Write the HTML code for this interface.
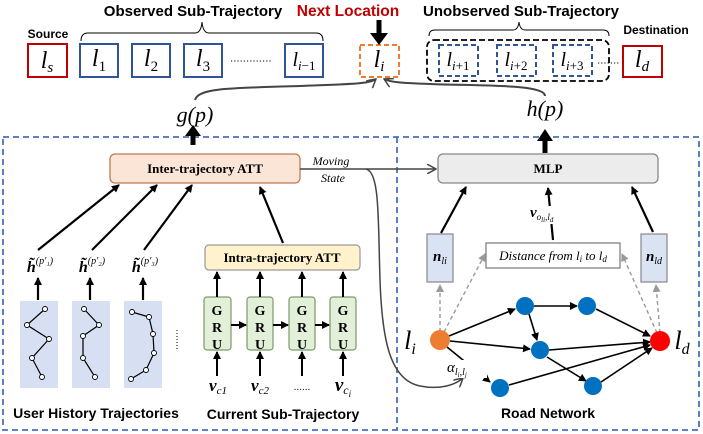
<!DOCTYPE html>
<html><head><meta charset="utf-8"><style>
html,body{margin:0;padding:0;background:#fff;}
svg{display:block;}
.s{font-family:"Liberation Sans",sans-serif;font-weight:bold;}
.m{font-family:"Liberation Serif",serif;font-style:italic;}
.b{font-family:"Liberation Serif",serif;font-weight:bold;}
</style></head><body>
<svg width="703" height="434" viewBox="0 0 703 434" xmlns="http://www.w3.org/2000/svg">
<defs>
<marker id="a" markerWidth="8" markerHeight="8" refX="7" refY="4" orient="auto" markerUnits="userSpaceOnUse"><path d="M0,0 L8,4 L0,8 Z" fill="#000"/></marker>
<marker id="ag" markerWidth="8" markerHeight="8" refX="7" refY="4" orient="auto" markerUnits="userSpaceOnUse"><path d="M0,0 L8,4 L0,8 Z" fill="#999"/></marker>
<marker id="ao" markerWidth="10" markerHeight="10" refX="9" refY="5" orient="auto" markerUnits="userSpaceOnUse"><path d="M0,0 L9,5 L0,10" fill="none" stroke="#444" stroke-width="1.5"/></marker>
</defs>
<text x="193" y="16" class="s" font-size="15" text-anchor="middle">Observed Sub-Trajectory</text>
<text x="348" y="16" class="s" font-size="15.5" text-anchor="middle" fill="#c00000">Next Location</text>
<text x="521" y="16" class="s" font-size="15" text-anchor="middle">Unobserved Sub-Trajectory</text>
<text x="48" y="38" class="s" font-size="12" text-anchor="middle">Source</text>
<text x="656" y="34" class="s" font-size="12" text-anchor="middle">Destination</text>
<path d="M81,41 Q81,33 88,33 L195,33 Q201,33 202,22 Q203,33 209,33 L316,33 Q323,33 323,41" fill="none" stroke="#000" stroke-width="1"/>
<path d="M429,36 Q429,30 435,30 L513,30 Q518,30 519,22 Q520,30 525,30 L603,30 Q609,30 609,36" fill="none" stroke="#000" stroke-width="1"/>
<rect x="28" y="44" width="39" height="33" fill="#fff" stroke="#c00000" stroke-width="2"/>
<text x="47" y="68" class="m" font-size="24" text-anchor="middle">l<tspan font-size="15" dy="4">s</tspan></text>
<g fill="#fff" stroke="#2f5597" stroke-width="2">
<rect x="80" y="44" width="38" height="33"/><rect x="132" y="44" width="38" height="33"/><rect x="184" y="44" width="38" height="33"/><rect x="285" y="44" width="38" height="33"/></g>
<text x="99" y="66" class="m" font-size="24" text-anchor="middle">l<tspan font-size="15" font-style="normal" dy="5">1</tspan></text>
<text x="151" y="66" class="m" font-size="24" text-anchor="middle">l<tspan font-size="15" font-style="normal" dy="5">2</tspan></text>
<text x="203" y="66" class="m" font-size="24" text-anchor="middle">l<tspan font-size="15" font-style="normal" dy="5">3</tspan></text>
<text x="304" y="66" class="m" font-size="20" text-anchor="middle">l<tspan font-size="13" dy="4">i</tspan><tspan font-size="13" font-style="normal">−1</tspan></text>
<line x1="231" y1="61" x2="272" y2="61" stroke="#000" stroke-dasharray="1.2 2"/>
<rect x="360" y="45" width="39" height="32" fill="none" stroke="#ed7d31" stroke-width="2" stroke-dasharray="5 3"/>
<text x="379" y="67" class="m" font-size="24" text-anchor="middle">l<tspan font-size="15" dy="4">i</tspan></text>
<path d="M379,20 L379,36" stroke="#000" stroke-width="5"/><path d="M370,33 L388,33 L379,45 Z" fill="#000"/>
<rect x="427" y="40" width="182" height="41" rx="7" fill="none" stroke="#000" stroke-width="1.8" stroke-dasharray="6 3"/>
<g fill="none" stroke="#2f5597" stroke-width="2" stroke-dasharray="5 3">
<rect x="439" y="45" width="39" height="31"/><rect x="497" y="45" width="39" height="31"/><rect x="553" y="45" width="39" height="31"/></g>
<text x="458" y="66" class="m" font-size="20" text-anchor="middle">l<tspan font-size="13" dy="4">i</tspan><tspan font-size="13" font-style="normal">+1</tspan></text>
<text x="516" y="66" class="m" font-size="20" text-anchor="middle">l<tspan font-size="13" dy="4">i</tspan><tspan font-size="13" font-style="normal">+2</tspan></text>
<text x="572" y="66" class="m" font-size="20" text-anchor="middle">l<tspan font-size="13" dy="4">i</tspan><tspan font-size="13" font-style="normal">+3</tspan></text>
<line x1="598" y1="63" x2="620" y2="63" stroke="#000" stroke-dasharray="1.2 2"/>
<rect x="623" y="46" width="39" height="31" fill="#fff" stroke="#c00000" stroke-width="2"/>
<text x="642" y="67" class="m" font-size="24" text-anchor="middle">l<tspan font-size="15" dy="4">d</tspan></text>
<path d="M195,100 C198,88 230,88 300,86 C350,84 370,84 376,79" fill="none" stroke="#444" stroke-width="2" marker-end="url(#ao)"/>
<path d="M545,96 C545,84 480,86 430,84 C400,83 390,82 384,79" fill="none" stroke="#444" stroke-width="2" marker-end="url(#ao)"/>
<text x="195" y="122" class="m" font-size="22" text-anchor="middle">g(p)</text>
<text x="545" y="116" class="m" font-size="22" text-anchor="middle">h(p)</text>
<g fill="none" stroke="#4a72b8" stroke-width="1.8" stroke-dasharray="6 4">
<rect x="3" y="137" width="696" height="293"/><line x1="397" y1="137" x2="397" y2="430"/></g>
<path d="M193,145 L193,132" stroke="#000" stroke-width="5"/><path d="M185,136 L201,136 L193,125 Z" fill="#000"/>
<path d="M545,153 L545,138" stroke="#000" stroke-width="5"/><path d="M537,141 L553,141 L545,129 Z" fill="#000"/>
<rect x="110" y="154" width="190" height="29" rx="5" fill="#fbe5d6" stroke="#c07a50" stroke-width="1.3"/>
<text x="205" y="173" class="b" font-size="13" text-anchor="middle">Inter-trajectory ATT</text>
<text x="331" y="165" class="m" font-size="12" text-anchor="middle">Moving</text>
<text x="333" y="182" class="m" font-size="12" text-anchor="middle">State</text>
<line x1="300" y1="169" x2="436" y2="169" stroke="#444" stroke-width="1.5" marker-end="url(#ao)"/>
<path d="M366,169 C380,172 378,220 380,280 C382,340 390,380 420,386 C440,390 455,385 463,378" fill="none" stroke="#444" stroke-width="1.5" marker-end="url(#ao)"/>
<rect x="438" y="154" width="220" height="29" rx="5" fill="#ececec" stroke="#888" stroke-width="1.3"/>
<text x="548" y="173" class="b" font-size="13" text-anchor="middle">MLP</text>
<g stroke="#000" stroke-width="2.2" fill="none">
<line x1="38" y1="250" x2="119" y2="185" marker-end="url(#a)"/>
<line x1="92" y1="250" x2="157" y2="185" marker-end="url(#a)"/>
<line x1="144" y1="250" x2="192" y2="185" marker-end="url(#a)"/>
<line x1="283" y1="243" x2="260" y2="187" marker-end="url(#a)"/>
<line x1="38" y1="300" x2="38" y2="278" marker-end="url(#a)"/>
<line x1="90" y1="300" x2="90" y2="278" marker-end="url(#a)"/>
<line x1="143" y1="300" x2="143" y2="278" marker-end="url(#a)"/>
</g>
<text x="40" y="272" class="b" font-size="16" text-anchor="middle"><tspan font-style="italic">h̃</tspan><tspan font-size="10" dy="-8" font-weight="normal" font-style="italic">(p′₁)</tspan></text>
<text x="92" y="272" class="b" font-size="16" text-anchor="middle"><tspan font-style="italic">h̃</tspan><tspan font-size="10" dy="-8" font-weight="normal" font-style="italic">(p′₂)</tspan></text>
<text x="145" y="272" class="b" font-size="16" text-anchor="middle"><tspan font-style="italic">h̃</tspan><tspan font-size="10" dy="-8" font-weight="normal" font-style="italic">(p′₃)</tspan></text>
<g fill="#d6e0f2"><rect x="20" y="301" width="38" height="87"/><rect x="72" y="301" width="38" height="87"/><rect x="124" y="301" width="38" height="87"/></g>
<g fill="none" stroke="#000" stroke-width="1.2">
<polyline points="45,309 27,325 49,339 32,358 42,377"/>
<polyline points="84,309 99,325 83,336 83,358 95,377"/>
<polyline points="132,312 149,317 153,334 154,353 146,370 131,379"/></g>
<g fill="#fff" stroke="#000" stroke-width="0.9">
<circle cx="45" cy="309" r="2.5"/><circle cx="27" cy="325" r="2.5"/><circle cx="49" cy="339" r="2.5"/><circle cx="32" cy="358" r="2.5"/><circle cx="42" cy="377" r="2.5"/>
<circle cx="84" cy="309" r="2.5"/><circle cx="99" cy="325" r="2.5"/><circle cx="83" cy="336" r="2.5"/><circle cx="83" cy="358" r="2.5"/><circle cx="95" cy="377" r="2.5"/>
<circle cx="132" cy="312" r="2.5"/><circle cx="149" cy="317" r="2.5"/><circle cx="153" cy="334" r="2.5"/><circle cx="154" cy="353" r="2.5"/><circle cx="146" cy="370" r="2.5"/><circle cx="131" cy="379" r="2.5"/></g>
<line x1="177" y1="330" x2="177" y2="350" stroke="#000" stroke-dasharray="1 2"/>
<rect x="205" y="245" width="155" height="25" rx="4" fill="#fff2cc" stroke="#999" stroke-width="1.2"/>
<text x="282" y="262" class="b" font-size="13" text-anchor="middle">Intra-trajectory ATT</text>
<g fill="#e2f0d9" stroke="#7a9a6a" stroke-width="1.2">
<rect x="204" y="297" width="27" height="53" rx="3"/><rect x="247" y="297" width="26" height="53" rx="3"/><rect x="289" y="297" width="26" height="53" rx="3"/><rect x="330" y="297" width="26" height="53" rx="3"/></g>
<g class="b" font-size="14" text-anchor="middle">
<text x="217" y="315">G</text><text x="217" y="332">R</text><text x="217" y="349">U</text>
<text x="260" y="315">G</text><text x="260" y="332">R</text><text x="260" y="349">U</text>
<text x="302" y="315">G</text><text x="302" y="332">R</text><text x="302" y="349">U</text>
<text x="343" y="315">G</text><text x="343" y="332">R</text><text x="343" y="349">U</text></g>
<g stroke="#000" stroke-width="2">
<line x1="217" y1="297" x2="217" y2="272" marker-end="url(#a)"/><line x1="260" y1="297" x2="260" y2="272" marker-end="url(#a)"/><line x1="302" y1="297" x2="302" y2="272" marker-end="url(#a)"/><line x1="343" y1="297" x2="343" y2="272" marker-end="url(#a)"/>
<line x1="231" y1="325" x2="246" y2="325" marker-end="url(#a)"/><line x1="273" y1="325" x2="288" y2="325" marker-end="url(#a)"/><line x1="315" y1="325" x2="329" y2="325" marker-end="url(#a)"/>
<line x1="217" y1="376" x2="217" y2="352" marker-end="url(#a)"/><line x1="260" y1="376" x2="260" y2="352" marker-end="url(#a)"/><line x1="302" y1="376" x2="302" y2="352" marker-end="url(#a)"/><line x1="343" y1="376" x2="343" y2="352" marker-end="url(#a)"/></g>
<text x="218" y="391" class="b" font-size="17" text-anchor="middle" font-style="italic">v<tspan font-size="11" font-weight="normal" dy="3">c1</tspan></text>
<text x="260" y="391" class="b" font-size="17" text-anchor="middle" font-style="italic">v<tspan font-size="11" font-weight="normal" dy="3">c2</tspan></text>
<text x="302" y="390" font-size="10" text-anchor="middle" font-family="Liberation Sans">......</text>
<text x="343" y="391" class="b" font-size="19" text-anchor="middle" font-style="italic">v<tspan font-size="12" font-weight="normal" dy="3">c<tspan font-size="9" dy="3">i</tspan></tspan></text>
<text x="96" y="418" class="s" font-size="14" text-anchor="middle">User History Trajectories</text>
<text x="283" y="419" class="s" font-size="14" text-anchor="middle">Current Sub-Trajectory</text>
<rect x="427" y="234" width="26" height="48" fill="#dae3f3" stroke="#888" stroke-width="1.2"/>
<rect x="641" y="234" width="26" height="48" fill="#dae3f3" stroke="#888" stroke-width="1.2"/>
<text x="440" y="261" class="b" font-size="15" text-anchor="middle" font-style="italic">n<tspan font-size="10" font-weight="normal" dy="3">li</tspan></text>
<text x="654" y="261" class="b" font-size="15" text-anchor="middle" font-style="italic">n<tspan font-size="10" font-weight="normal" dy="3">ld</tspan></text>
<rect x="486" y="243" width="134" height="25" fill="#fff" stroke="#777" stroke-width="1.2"/>
<text x="553" y="260" class="m" font-size="13" text-anchor="middle">Distance from l<tspan font-size="9" dy="2">i</tspan><tspan dy="-2"> to l</tspan><tspan font-size="9" dy="2">d</tspan></text>
<g stroke="#000" stroke-width="2.2">
<line x1="441" y1="233" x2="466" y2="187" marker-end="url(#a)"/>
<line x1="553" y1="240" x2="548" y2="188" marker-end="url(#a)"/>
<line x1="653" y1="232" x2="632" y2="187" marker-end="url(#a)"/></g>
<rect x="528" y="206" width="32" height="18" fill="#fff"/>
<text x="530" y="217" class="b" font-size="15" font-style="italic">v<tspan font-size="9" font-weight="normal" dy="3">o<tspan font-size="7" dy="2">li</tspan><tspan dy="-2">,l</tspan><tspan font-size="7" dy="2">d</tspan></tspan></text>
<g stroke="#999" stroke-width="1.4" stroke-dasharray="4 3" fill="none">
<line x1="440" y1="332" x2="440" y2="285" marker-end="url(#ag)"/>
<line x1="444" y1="332" x2="485" y2="254" marker-end="url(#ag)"/>
<line x1="657" y1="333" x2="622" y2="254" marker-end="url(#ag)"/>
<line x1="660" y1="333" x2="656" y2="285" marker-end="url(#ag)"/></g>
<g stroke="#000" stroke-width="1.6">
<line x1="449" y1="336" x2="515" y2="309" marker-end="url(#a)"/>
<line x1="450" y1="341" x2="530" y2="349" marker-end="url(#a)"/>
<line x1="447" y1="347" x2="490" y2="382" marker-end="url(#a)"/>
<line x1="534" y1="306" x2="577" y2="306" marker-end="url(#a)"/>
<line x1="529" y1="314" x2="537" y2="340" marker-end="url(#a)"/>
<line x1="596" y1="309" x2="650" y2="336" marker-end="url(#a)"/>
<line x1="549" y1="350" x2="650" y2="342" marker-end="url(#a)"/>
<line x1="547" y1="357" x2="586" y2="381" marker-end="url(#a)"/>
<line x1="601" y1="382" x2="652" y2="348" marker-end="url(#a)"/>
<line x1="509" y1="385" x2="650" y2="345" marker-end="url(#a)"/></g>
<rect x="445" y="360" width="42" height="18" fill="#fff"/>
<text x="447" y="372" class="m" font-size="15">α<tspan font-size="10" dy="3">l<tspan font-size="7" dy="2">i</tspan><tspan dy="-2">,l</tspan><tspan font-size="7" dy="2">j</tspan></tspan></text>
<g fill="#0070c0"><circle cx="525" cy="306" r="9"/><circle cx="587" cy="306" r="9"/><circle cx="540" cy="350" r="9"/><circle cx="593" cy="386" r="9"/><circle cx="500" cy="388" r="9"/></g>
<circle cx="440" cy="340" r="10" fill="#ed7d31"/>
<circle cx="660" cy="341" r="10" fill="#ff0000"/>
<text x="410" y="349" class="m" font-size="26" text-anchor="middle">l<tspan font-size="16" dy="5">i</tspan></text>
<text x="682" y="349" class="m" font-size="26" text-anchor="middle">l<tspan font-size="16" dy="5">d</tspan></text>
<text x="548" y="418" class="s" font-size="14" text-anchor="middle">Road Network</text>
</svg>
</body></html>
